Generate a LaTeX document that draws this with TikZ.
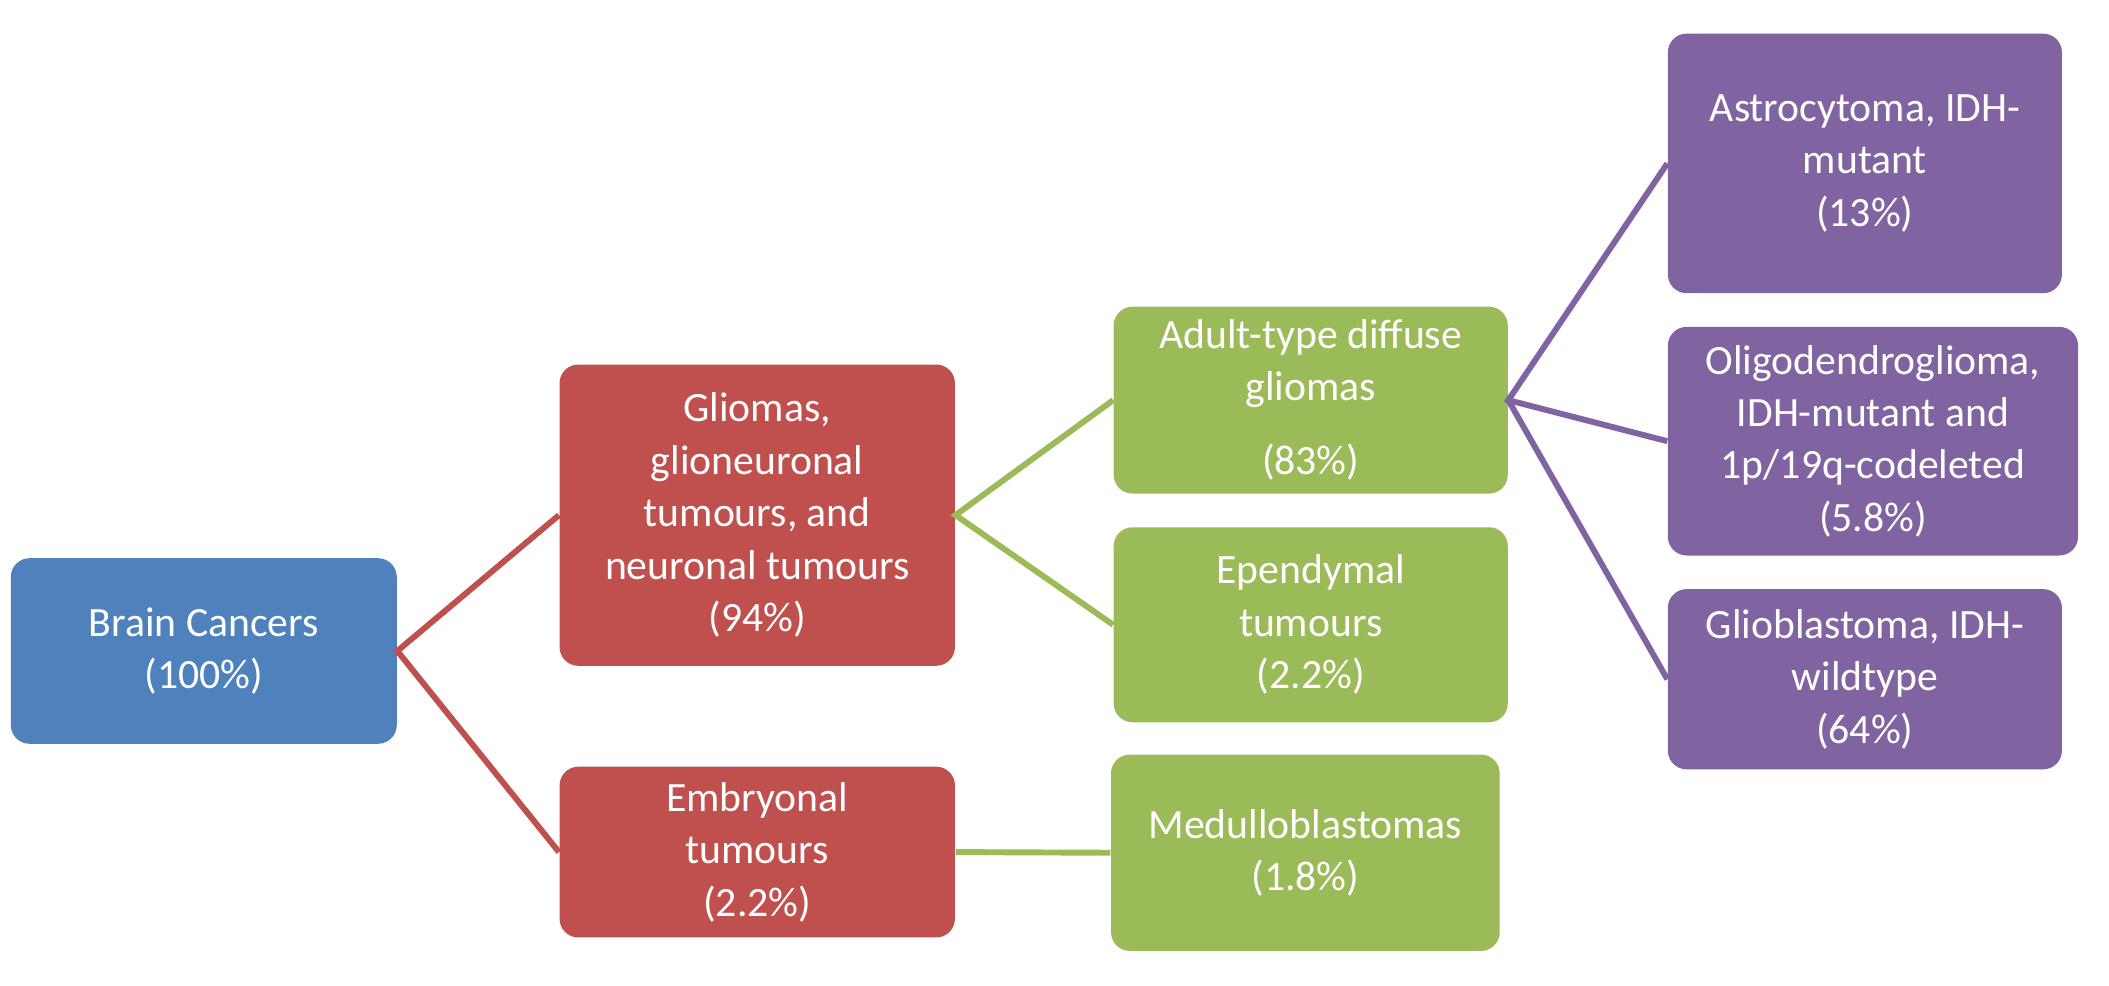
\documentclass[tikz,border=0pt]{standalone}
\usepackage{fontspec}
\setmainfont{Carlito}
\definecolor{cblue}{HTML}{4F81BD}
\definecolor{cred}{HTML}{C0504D}
\definecolor{cgreen}{HTML}{9BBB59}
\definecolor{cpurple}{HTML}{8064A2}
\begin{document}
\begin{tikzpicture}[x=0.5pt,y=-0.5pt,
  box/.style={draw=none,rounded corners=7pt,text=white,align=center,inner sep=0pt,
    font=\fontsize{15.5}{19.5}\selectfont},
  con/.style={line width=2.2pt}]
\useasboundingbox (0,0) rectangle (1568,733);
\newcommand{\bx}[7]{\node[box,fill=#6,minimum width={(#3-#2)*0.5pt},minimum height={(#5-#4)*0.5pt}] (#1) at ({(#2+#3)/2},{(#4+#5)/2}) {#7};}
\bx{root}{8}{295}{415}{553}{cblue}{Brain Cancers\\(100\%)}
\bx{glio}{416}{710}{271}{495}{cred}{Gliomas,\\glioneuronal\\tumours, and\\neuronal tumours\\(94\%)}
\bx{emb}{416}{710}{570}{697}{cred}{Embryonal\\tumours\\(2.2\%)}
\bx{adult}{828}{1121}{228}{367}{cgreen}{Adult-type diffuse\\gliomas\\[8pt](83\%)}
\bx{epen}{828}{1121}{392}{537}{cgreen}{Ependymal\\tumours\\(2.2\%)}
\bx{medu}{826}{1115}{561}{707}{cgreen}{Medulloblastomas\\(1.8\%)}
\bx{astro}{1240}{1533}{25}{218}{cpurple}{Astrocytoma, IDH-\\mutant\\(13\%)}
\bx{oligo}{1240}{1545}{243}{413}{cpurple}{Oligodendroglioma,\\IDH-mutant and\\1p/19q-codeleted\\(5.8\%)}
\bx{gbm}{1240}{1533}{438}{572}{cpurple}{Glioblastoma, IDH-\\wildtype\\(64\%)}
\draw[con,cred] (glio.west) -- (root.east) -- (emb.west);
\draw[con,cgreen] (adult.west) -- (glio.east) -- (epen.west);
\draw[con,cgreen] (emb.east) -- (medu.west);
\draw[con,cpurple] (astro.west) -- (adult.east) -- (oligo.west);
\draw[con,cpurple] (adult.east) -- (gbm.west);
\end{tikzpicture}
\end{document}
